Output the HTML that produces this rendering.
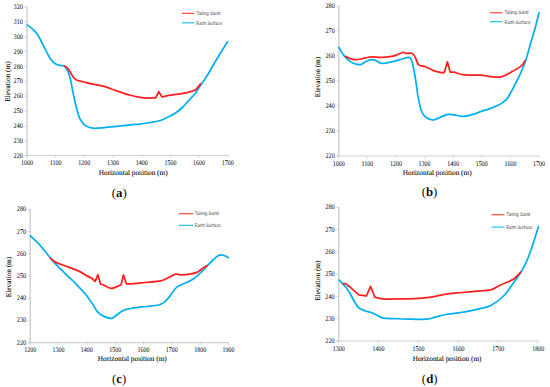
<!DOCTYPE html>
<html><head><meta charset="utf-8"><style>
html,body{margin:0;padding:0;background:#fff;width:550px;height:387px;overflow:hidden}
svg{display:block;text-rendering:geometricPrecision}
.t{font-family:"Liberation Serif",serif;font-size:7.1px;fill:#161616;stroke:#161616;stroke-width:0.05px}
.ti{font-family:"Liberation Serif",serif;font-size:7.3px;fill:#000;stroke:#000;stroke-width:0.08px}
.lb{font-family:"Liberation Serif",serif;font-size:12.8px;fill:#111}
.lg{font-family:"Liberation Sans",sans-serif;font-size:5px;fill:#4a4a4a}
</style></head><body>
<svg width="550" height="387" viewBox="0 0 550 387">
<rect width="550" height="387" fill="#fff"/>
<g><line x1="27" y1="6.6" x2="27" y2="157" stroke="#cfcfcf" stroke-width="1.4"/>
<line x1="24.5" y1="155.5" x2="228.3" y2="155.5" stroke="#cfcfcf" stroke-width="1.1"/>
<line x1="24.5" y1="155.5" x2="27" y2="155.5" stroke="#cfcfcf" stroke-width="0.9"/>
<text x="23" y="157.6" class="t" text-anchor="end" textLength="9.4" lengthAdjust="spacingAndGlyphs">220</text>
<line x1="24.5" y1="140.66" x2="27" y2="140.66" stroke="#cfcfcf" stroke-width="0.9"/>
<text x="23" y="142.76" class="t" text-anchor="end" textLength="9.4" lengthAdjust="spacingAndGlyphs">230</text>
<line x1="24.5" y1="125.82" x2="27" y2="125.82" stroke="#cfcfcf" stroke-width="0.9"/>
<text x="23" y="127.92" class="t" text-anchor="end" textLength="9.4" lengthAdjust="spacingAndGlyphs">240</text>
<line x1="24.5" y1="110.98" x2="27" y2="110.98" stroke="#cfcfcf" stroke-width="0.9"/>
<text x="23" y="113.08" class="t" text-anchor="end" textLength="9.4" lengthAdjust="spacingAndGlyphs">250</text>
<line x1="24.5" y1="96.14" x2="27" y2="96.14" stroke="#cfcfcf" stroke-width="0.9"/>
<text x="23" y="98.24" class="t" text-anchor="end" textLength="9.4" lengthAdjust="spacingAndGlyphs">260</text>
<line x1="24.5" y1="81.3" x2="27" y2="81.3" stroke="#cfcfcf" stroke-width="0.9"/>
<text x="23" y="83.4" class="t" text-anchor="end" textLength="9.4" lengthAdjust="spacingAndGlyphs">270</text>
<line x1="24.5" y1="66.46" x2="27" y2="66.46" stroke="#cfcfcf" stroke-width="0.9"/>
<text x="23" y="68.56" class="t" text-anchor="end" textLength="9.4" lengthAdjust="spacingAndGlyphs">280</text>
<line x1="24.5" y1="51.62" x2="27" y2="51.62" stroke="#cfcfcf" stroke-width="0.9"/>
<text x="23" y="53.72" class="t" text-anchor="end" textLength="9.4" lengthAdjust="spacingAndGlyphs">290</text>
<line x1="24.5" y1="36.78" x2="27" y2="36.78" stroke="#cfcfcf" stroke-width="0.9"/>
<text x="23" y="38.88" class="t" text-anchor="end" textLength="9.4" lengthAdjust="spacingAndGlyphs">300</text>
<line x1="24.5" y1="21.94" x2="27" y2="21.94" stroke="#cfcfcf" stroke-width="0.9"/>
<text x="23" y="24.04" class="t" text-anchor="end" textLength="9.4" lengthAdjust="spacingAndGlyphs">310</text>
<line x1="24.5" y1="7.1" x2="27" y2="7.1" stroke="#cfcfcf" stroke-width="0.9"/>
<text x="23" y="9.2" class="t" text-anchor="end" textLength="9.4" lengthAdjust="spacingAndGlyphs">320</text>
<line x1="27" y1="155.5" x2="27" y2="157.8" stroke="#cfcfcf" stroke-width="0.9"/>
<text x="27" y="165.4" class="t" text-anchor="middle" textLength="12.0" lengthAdjust="spacingAndGlyphs">1000</text>
<line x1="55.69" y1="155.5" x2="55.69" y2="157.8" stroke="#cfcfcf" stroke-width="0.9"/>
<text x="55.69" y="165.4" class="t" text-anchor="middle" textLength="12.0" lengthAdjust="spacingAndGlyphs">1100</text>
<line x1="84.37" y1="155.5" x2="84.37" y2="157.8" stroke="#cfcfcf" stroke-width="0.9"/>
<text x="84.37" y="165.4" class="t" text-anchor="middle" textLength="12.0" lengthAdjust="spacingAndGlyphs">1200</text>
<line x1="113.06" y1="155.5" x2="113.06" y2="157.8" stroke="#cfcfcf" stroke-width="0.9"/>
<text x="113.06" y="165.4" class="t" text-anchor="middle" textLength="12.0" lengthAdjust="spacingAndGlyphs">1300</text>
<line x1="141.74" y1="155.5" x2="141.74" y2="157.8" stroke="#cfcfcf" stroke-width="0.9"/>
<text x="141.74" y="165.4" class="t" text-anchor="middle" textLength="12.0" lengthAdjust="spacingAndGlyphs">1400</text>
<line x1="170.43" y1="155.5" x2="170.43" y2="157.8" stroke="#cfcfcf" stroke-width="0.9"/>
<text x="170.43" y="165.4" class="t" text-anchor="middle" textLength="12.0" lengthAdjust="spacingAndGlyphs">1500</text>
<line x1="199.11" y1="155.5" x2="199.11" y2="157.8" stroke="#cfcfcf" stroke-width="0.9"/>
<text x="199.11" y="165.4" class="t" text-anchor="middle" textLength="12.0" lengthAdjust="spacingAndGlyphs">1600</text>
<line x1="227.8" y1="155.5" x2="227.8" y2="157.8" stroke="#cfcfcf" stroke-width="0.9"/>
<text x="227.8" y="165.4" class="t" text-anchor="middle" textLength="12.0" lengthAdjust="spacingAndGlyphs">1700</text>
<text transform="translate(9.5,81.6) rotate(-90)" class="ti" text-anchor="middle">Elevation (m)</text>
<text x="133.2" y="175.2" class="ti" text-anchor="middle">Horizontal position (m)</text>
<text x="119.3" y="196.6" class="lb" text-anchor="middle">(<tspan font-weight="bold">a</tspan>)</text>
<line x1="182" y1="13.4" x2="194.4" y2="13.4" stroke="#ff5a4a" stroke-width="1.3"/>
<line x1="182" y1="22.8" x2="194.4" y2="22.8" stroke="#33c4f5" stroke-width="1.3"/>
<text x="196.2" y="15" class="lg" textLength="24" lengthAdjust="spacingAndGlyphs">Tailing Sand</text>
<text x="196.2" y="24.8" class="lg" textLength="25.8" lengthAdjust="spacingAndGlyphs">Earth Surface</text>
<path d="M27,24.9 C27.62,25.32 29.48,26.43 30.7,27.4 C31.92,28.37 33.22,29.55 34.3,30.7 C35.38,31.85 36.23,32.92 37.2,34.3 C38.17,35.68 39.03,37.05 40.1,39 C41.17,40.95 42.45,43.73 43.6,46 C44.75,48.27 45.93,50.55 47,52.6 C48.07,54.65 48.88,56.65 50,58.3 C51.12,59.95 52.47,61.42 53.7,62.5 C54.93,63.58 56.17,64.28 57.4,64.8 C58.63,65.32 60,65.38 61.1,65.6 C62.2,65.82 63.15,65.62 64,66.1 C64.85,66.58 65.43,67.35 66.2,68.5 C66.97,69.65 67.83,70.92 68.6,73 C69.37,75.08 70.1,77.88 70.8,81 C71.5,84.12 72.15,88.45 72.8,91.7 C73.45,94.95 74.07,97.72 74.7,100.5 C75.33,103.28 75.97,105.98 76.6,108.4 C77.23,110.82 77.78,112.98 78.5,115 C79.22,117.02 79.68,118.67 80.9,120.5 C82.12,122.33 83.62,124.7 85.8,126 C87.98,127.3 90.97,128.03 94,128.3 C97.03,128.57 100.25,127.93 104,127.6 C107.75,127.27 111.83,126.8 116.5,126.3 C121.17,125.8 128.08,124.97 132,124.6 C135.92,124.23 136.97,124.45 140,124.1 C143.03,123.75 146.8,123.1 150.2,122.5 C153.6,121.9 157.35,121.45 160.4,120.5 C163.45,119.55 165.97,118.05 168.5,116.8 C171.03,115.55 173.22,114.63 175.6,113 C177.98,111.37 180.58,109.12 182.8,107 C185.02,104.88 186.87,102.5 188.9,100.3 C190.93,98.1 193.18,96.1 195,93.8 C196.82,91.5 197.82,89.47 199.8,86.5 C201.78,83.53 204.17,80.42 206.9,76 C209.63,71.58 212.77,65.7 216.2,60 C219.63,54.3 225.62,44.83 227.5,41.8" fill="none" stroke="#00b0f0" stroke-width="1.75" stroke-linejoin="round" stroke-linecap="round"/>
<path d="M64.7,66 C65.17,66.37 66.53,67.12 67.5,68.2 C68.47,69.28 69.45,70.9 70.5,72.5 C71.55,74.1 72.72,76.52 73.8,77.8 C74.88,79.08 75.97,79.67 77,80.2 C78.03,80.73 78.83,80.7 80,81 C81.17,81.3 82.33,81.57 84,82 C85.67,82.43 86.82,82.9 90,83.6 C93.18,84.3 98.73,85.02 103.1,86.2 C107.47,87.38 111.83,89.23 116.2,90.7 C120.57,92.17 125.33,93.9 129.3,95 C133.27,96.1 136.87,96.78 140,97.3 C143.13,97.82 145.47,98 148.1,98.1 C150.73,98.2 154.52,97.93 155.8,97.9 C156.3,96.85 158.3,92.65 158.8,91.6 C159.32,92.48 161.38,96.02 161.9,96.9 C163.32,96.6 167.28,95.62 170.4,95.1 C173.52,94.58 177.7,94.25 180.6,93.8 C183.5,93.35 185.45,92.98 187.8,92.4 C190.15,91.82 193.03,91.13 194.7,90.3 C196.37,89.47 196.87,88.45 197.8,87.4 C198.73,86.35 199.88,84.57 200.3,84" fill="none" stroke="#ff1f1f" stroke-width="1.75" stroke-linejoin="round" stroke-linecap="round"/></g>
<g><line x1="338.8" y1="5.4" x2="338.8" y2="157.5" stroke="#cfcfcf" stroke-width="1.4"/>
<line x1="336.3" y1="156" x2="539.5" y2="156" stroke="#cfcfcf" stroke-width="1.1"/>
<line x1="336.3" y1="156" x2="338.8" y2="156" stroke="#cfcfcf" stroke-width="0.9"/>
<text x="334.8" y="158.1" class="t" text-anchor="end" textLength="9.4" lengthAdjust="spacingAndGlyphs">220</text>
<line x1="336.3" y1="130.98" x2="338.8" y2="130.98" stroke="#cfcfcf" stroke-width="0.9"/>
<text x="334.8" y="133.08" class="t" text-anchor="end" textLength="9.4" lengthAdjust="spacingAndGlyphs">230</text>
<line x1="336.3" y1="105.97" x2="338.8" y2="105.97" stroke="#cfcfcf" stroke-width="0.9"/>
<text x="334.8" y="108.07" class="t" text-anchor="end" textLength="9.4" lengthAdjust="spacingAndGlyphs">240</text>
<line x1="336.3" y1="80.95" x2="338.8" y2="80.95" stroke="#cfcfcf" stroke-width="0.9"/>
<text x="334.8" y="83.05" class="t" text-anchor="end" textLength="9.4" lengthAdjust="spacingAndGlyphs">250</text>
<line x1="336.3" y1="55.93" x2="338.8" y2="55.93" stroke="#cfcfcf" stroke-width="0.9"/>
<text x="334.8" y="58.03" class="t" text-anchor="end" textLength="9.4" lengthAdjust="spacingAndGlyphs">260</text>
<line x1="336.3" y1="30.92" x2="338.8" y2="30.92" stroke="#cfcfcf" stroke-width="0.9"/>
<text x="334.8" y="33.02" class="t" text-anchor="end" textLength="9.4" lengthAdjust="spacingAndGlyphs">270</text>
<line x1="336.3" y1="5.9" x2="338.8" y2="5.9" stroke="#cfcfcf" stroke-width="0.9"/>
<text x="334.8" y="8" class="t" text-anchor="end" textLength="9.4" lengthAdjust="spacingAndGlyphs">280</text>
<line x1="338.8" y1="156" x2="338.8" y2="158.3" stroke="#cfcfcf" stroke-width="0.9"/>
<text x="338.8" y="165.7" class="t" text-anchor="middle" textLength="12.0" lengthAdjust="spacingAndGlyphs">1000</text>
<line x1="367.4" y1="156" x2="367.4" y2="158.3" stroke="#cfcfcf" stroke-width="0.9"/>
<text x="367.4" y="165.7" class="t" text-anchor="middle" textLength="12.0" lengthAdjust="spacingAndGlyphs">1100</text>
<line x1="396" y1="156" x2="396" y2="158.3" stroke="#cfcfcf" stroke-width="0.9"/>
<text x="396" y="165.7" class="t" text-anchor="middle" textLength="12.0" lengthAdjust="spacingAndGlyphs">1200</text>
<line x1="424.6" y1="156" x2="424.6" y2="158.3" stroke="#cfcfcf" stroke-width="0.9"/>
<text x="424.6" y="165.7" class="t" text-anchor="middle" textLength="12.0" lengthAdjust="spacingAndGlyphs">1300</text>
<line x1="453.2" y1="156" x2="453.2" y2="158.3" stroke="#cfcfcf" stroke-width="0.9"/>
<text x="453.2" y="165.7" class="t" text-anchor="middle" textLength="12.0" lengthAdjust="spacingAndGlyphs">1400</text>
<line x1="481.8" y1="156" x2="481.8" y2="158.3" stroke="#cfcfcf" stroke-width="0.9"/>
<text x="481.8" y="165.7" class="t" text-anchor="middle" textLength="12.0" lengthAdjust="spacingAndGlyphs">1500</text>
<line x1="510.4" y1="156" x2="510.4" y2="158.3" stroke="#cfcfcf" stroke-width="0.9"/>
<text x="510.4" y="165.7" class="t" text-anchor="middle" textLength="12.0" lengthAdjust="spacingAndGlyphs">1600</text>
<line x1="539" y1="156" x2="539" y2="158.3" stroke="#cfcfcf" stroke-width="0.9"/>
<text x="539" y="165.7" class="t" text-anchor="middle" textLength="12.0" lengthAdjust="spacingAndGlyphs">1700</text>
<text transform="translate(320,77) rotate(-90)" class="ti" text-anchor="middle">Elevation (m)</text>
<text x="437.2" y="174.7" class="ti" text-anchor="middle">Horizontal position (m)</text>
<text x="429.5" y="195.7" class="lb" text-anchor="middle">(<tspan font-weight="bold">b</tspan>)</text>
<line x1="490" y1="12.7" x2="502.5" y2="12.7" stroke="#ff5a4a" stroke-width="1.3"/>
<line x1="490" y1="21.7" x2="502.5" y2="21.7" stroke="#33c4f5" stroke-width="1.3"/>
<text x="504.5" y="14.3" class="lg" textLength="24" lengthAdjust="spacingAndGlyphs">Tailing Sand</text>
<text x="504.5" y="23.7" class="lg" textLength="25.8" lengthAdjust="spacingAndGlyphs">Earth Surface</text>
<path d="M339,47.5 C339.57,48.52 341.05,51.65 342.4,53.6 C343.75,55.55 345.28,57.6 347.1,59.2 C348.92,60.8 351.12,62.3 353.3,63.2 C355.48,64.1 358.17,64.83 360.2,64.6 C362.23,64.37 363.72,62.63 365.5,61.8 C367.28,60.97 369.23,59.85 370.9,59.6 C372.57,59.35 373.68,59.67 375.5,60.3 C377.32,60.93 378.93,63.18 381.8,63.4 C384.67,63.62 389.78,62.2 392.7,61.6 C395.62,61 396.92,60.47 399.3,59.8 C401.68,59.13 405.18,57.92 407,57.6 C408.82,57.28 409.28,56.95 410.2,57.9 C411.12,58.85 411.73,60.45 412.5,63.3 C413.27,66.15 414.03,70.6 414.8,75 C415.57,79.4 416.6,86.28 417.1,89.7 C417.6,93.12 417.17,92.2 417.8,95.5 C418.43,98.8 419.73,106.02 420.9,109.5 C422.07,112.98 422.85,114.65 424.8,116.4 C426.75,118.15 430.02,119.87 432.6,120 C435.18,120.13 437.72,118.13 440.3,117.2 C442.88,116.27 445.77,114.78 448.1,114.4 C450.43,114.02 451.72,114.57 454.3,114.9 C456.88,115.23 460.77,116.4 463.6,116.4 C466.43,116.4 468.23,115.77 471.3,114.9 C474.37,114.03 478.88,112.25 482,111.2 C485.12,110.15 487.22,109.63 490,108.6 C492.78,107.57 496.37,106.18 498.7,105 C501.03,103.82 502.57,102.6 504,101.5 C505.43,100.4 506.22,99.82 507.3,98.4 C508.38,96.98 509.42,94.93 510.5,93 C511.58,91.07 512.13,90.07 513.8,86.8 C515.47,83.53 518.53,77.73 520.5,73.4 C522.47,69.07 523.93,65.73 525.6,60.8 C527.27,55.87 528.93,49.18 530.5,43.8 C532.07,38.42 533.58,33.67 535,28.5 C536.42,23.33 538.33,15.42 539,12.8" fill="none" stroke="#00b0f0" stroke-width="1.75" stroke-linejoin="round" stroke-linecap="round"/>
<path d="M345.5,56.4 C346.53,56.85 349.63,58.58 351.7,59.1 C353.77,59.62 355.57,59.72 357.9,59.5 C360.23,59.28 363.35,58.23 365.7,57.8 C368.05,57.37 369.28,56.98 372,56.9 C374.72,56.82 378.5,57.43 382,57.3 C385.5,57.17 389.52,56.9 393,56.1 C396.48,55.3 400.65,52.95 402.9,52.5 C405.15,52.05 405.03,53.27 406.5,53.4 C407.97,53.53 410.32,52.8 411.7,53.3 C413.08,53.8 413.63,54.47 414.8,56.4 C415.97,58.33 416.88,63.18 418.7,64.9 C420.52,66.62 423.25,65.75 425.7,66.7 C428.15,67.65 430.82,69.62 433.4,70.6 C435.98,71.58 439.38,72.27 441.2,72.6 C443.02,72.93 443.78,72.6 444.3,72.6 C444.82,70.8 446.88,63.6 447.4,61.8 C447.87,63.53 449.73,70.47 450.2,72.2 C450.77,72.2 451.48,71.78 453.6,72.2 C455.72,72.62 460.17,74.22 462.9,74.7 C465.63,75.18 467.1,75.03 470,75.1 C472.9,75.17 476.92,74.85 480.3,75.1 C483.68,75.35 487.23,76.25 490.3,76.6 C493.37,76.95 496.45,77.3 498.7,77.2 C500.95,77.1 501.57,76.93 503.8,76 C506.03,75.07 509.58,73 512.1,71.6 C514.62,70.2 517.17,68.77 518.9,67.6 C520.63,66.43 521.52,65.7 522.5,64.6 C523.48,63.5 524.42,61.6 524.8,61" fill="none" stroke="#ff1f1f" stroke-width="1.75" stroke-linejoin="round" stroke-linecap="round"/></g>
<g><line x1="30.2" y1="208.8" x2="30.2" y2="344.1" stroke="#cfcfcf" stroke-width="1.4"/>
<line x1="27.7" y1="342.6" x2="229" y2="342.6" stroke="#cfcfcf" stroke-width="1.1"/>
<line x1="27.7" y1="342.6" x2="30.2" y2="342.6" stroke="#cfcfcf" stroke-width="0.9"/>
<text x="26.2" y="344.7" class="t" text-anchor="end" textLength="9.4" lengthAdjust="spacingAndGlyphs">220</text>
<line x1="27.7" y1="320.38" x2="30.2" y2="320.38" stroke="#cfcfcf" stroke-width="0.9"/>
<text x="26.2" y="322.48" class="t" text-anchor="end" textLength="9.4" lengthAdjust="spacingAndGlyphs">230</text>
<line x1="27.7" y1="298.17" x2="30.2" y2="298.17" stroke="#cfcfcf" stroke-width="0.9"/>
<text x="26.2" y="300.27" class="t" text-anchor="end" textLength="9.4" lengthAdjust="spacingAndGlyphs">240</text>
<line x1="27.7" y1="275.95" x2="30.2" y2="275.95" stroke="#cfcfcf" stroke-width="0.9"/>
<text x="26.2" y="278.05" class="t" text-anchor="end" textLength="9.4" lengthAdjust="spacingAndGlyphs">250</text>
<line x1="27.7" y1="253.73" x2="30.2" y2="253.73" stroke="#cfcfcf" stroke-width="0.9"/>
<text x="26.2" y="255.83" class="t" text-anchor="end" textLength="9.4" lengthAdjust="spacingAndGlyphs">260</text>
<line x1="27.7" y1="231.52" x2="30.2" y2="231.52" stroke="#cfcfcf" stroke-width="0.9"/>
<text x="26.2" y="233.62" class="t" text-anchor="end" textLength="9.4" lengthAdjust="spacingAndGlyphs">270</text>
<line x1="27.7" y1="209.3" x2="30.2" y2="209.3" stroke="#cfcfcf" stroke-width="0.9"/>
<text x="26.2" y="211.4" class="t" text-anchor="end" textLength="9.4" lengthAdjust="spacingAndGlyphs">280</text>
<line x1="30.2" y1="342.6" x2="30.2" y2="344.9" stroke="#cfcfcf" stroke-width="0.9"/>
<text x="30.2" y="351.9" class="t" text-anchor="middle" textLength="12.0" lengthAdjust="spacingAndGlyphs">1200</text>
<line x1="58.53" y1="342.6" x2="58.53" y2="344.9" stroke="#cfcfcf" stroke-width="0.9"/>
<text x="58.53" y="351.9" class="t" text-anchor="middle" textLength="12.0" lengthAdjust="spacingAndGlyphs">1300</text>
<line x1="86.86" y1="342.6" x2="86.86" y2="344.9" stroke="#cfcfcf" stroke-width="0.9"/>
<text x="86.86" y="351.9" class="t" text-anchor="middle" textLength="12.0" lengthAdjust="spacingAndGlyphs">1400</text>
<line x1="115.19" y1="342.6" x2="115.19" y2="344.9" stroke="#cfcfcf" stroke-width="0.9"/>
<text x="115.19" y="351.9" class="t" text-anchor="middle" textLength="12.0" lengthAdjust="spacingAndGlyphs">1500</text>
<line x1="143.51" y1="342.6" x2="143.51" y2="344.9" stroke="#cfcfcf" stroke-width="0.9"/>
<text x="143.51" y="351.9" class="t" text-anchor="middle" textLength="12.0" lengthAdjust="spacingAndGlyphs">1600</text>
<line x1="171.84" y1="342.6" x2="171.84" y2="344.9" stroke="#cfcfcf" stroke-width="0.9"/>
<text x="171.84" y="351.9" class="t" text-anchor="middle" textLength="12.0" lengthAdjust="spacingAndGlyphs">1700</text>
<line x1="200.17" y1="342.6" x2="200.17" y2="344.9" stroke="#cfcfcf" stroke-width="0.9"/>
<text x="200.17" y="351.9" class="t" text-anchor="middle" textLength="12.0" lengthAdjust="spacingAndGlyphs">1800</text>
<line x1="228.5" y1="342.6" x2="228.5" y2="344.9" stroke="#cfcfcf" stroke-width="0.9"/>
<text x="228.5" y="351.9" class="t" text-anchor="middle" textLength="12.0" lengthAdjust="spacingAndGlyphs">1900</text>
<text transform="translate(10.7,277) rotate(-90)" class="ti" text-anchor="middle">Elevation (m)</text>
<text x="132.3" y="361" class="ti" text-anchor="middle">Horizontal position (m)</text>
<text x="119.1" y="383" class="lb" text-anchor="middle">(<tspan font-weight="bold">c</tspan>)</text>
<line x1="178.7" y1="213.7" x2="193.3" y2="213.7" stroke="#ff5a4a" stroke-width="1.3"/>
<line x1="178.7" y1="225.4" x2="193.3" y2="225.4" stroke="#33c4f5" stroke-width="1.3"/>
<text x="194.8" y="215.3" class="lg" textLength="24" lengthAdjust="spacingAndGlyphs">Tailing Sand</text>
<text x="194.8" y="227.4" class="lg" textLength="25.8" lengthAdjust="spacingAndGlyphs">Earth Surface</text>
<path d="M30.4,235.9 C32.03,237.5 36.77,241.7 40.2,245.5 C43.63,249.3 48.17,255.33 51,258.7 C53.83,262.07 54.1,262.52 57.2,265.7 C60.3,268.88 66.77,275.07 69.6,277.8 C72.43,280.53 72.47,280.37 74.2,282.1 C75.93,283.83 78.1,286.17 80,288.2 C81.9,290.23 83.48,291.62 85.6,294.3 C87.72,296.98 90.7,301.37 92.7,304.3 C94.7,307.23 95.95,310.02 97.6,311.9 C99.25,313.78 100.35,314.52 102.6,315.6 C104.85,316.68 108.92,318.37 111.1,318.4 C113.28,318.43 113.65,317.13 115.7,315.8 C117.75,314.47 120.3,311.73 123.4,310.4 C126.5,309.07 130.42,308.45 134.3,307.8 C138.18,307.15 142.65,306.97 146.7,306.5 C150.75,306.03 155.75,305.65 158.6,305 C161.45,304.35 162.08,303.87 163.8,302.6 C165.52,301.33 166.97,299.75 168.9,297.4 C170.83,295.05 173.62,290.48 175.4,288.5 C177.18,286.52 178.33,286.25 179.6,285.5 C180.87,284.75 180.7,285.1 183,284 C185.3,282.9 190.17,281.07 193.4,278.9 C196.63,276.73 200.07,273.2 202.4,271 C204.73,268.8 205.53,267.62 207.4,265.7 C209.27,263.78 211.88,261.12 213.6,259.5 C215.32,257.88 216.32,256.75 217.7,256 C219.08,255.25 220.52,254.95 221.9,255 C223.28,255.05 224.93,255.82 226,256.3 C227.07,256.78 227.92,257.63 228.3,257.9" fill="none" stroke="#00b0f0" stroke-width="1.75" stroke-linejoin="round" stroke-linecap="round"/>
<path d="M50.2,257.9 C51.23,258.68 53.68,261.18 56.4,262.6 C59.12,264.02 62.75,264.98 66.5,266.4 C70.25,267.82 75.62,269.58 78.9,271.1 C82.18,272.62 84.08,274.3 86.2,275.5 C88.32,276.7 90.1,277.32 91.6,278.3 C93.1,279.28 94.6,280.88 95.2,281.4 C95.63,280.28 97.37,275.82 97.8,274.7 C98.25,276.25 100.05,282.45 100.5,284 C101.22,284.27 103.05,284.87 104.8,285.6 C106.55,286.33 109.18,288.15 111,288.4 C112.82,288.65 114.02,287.7 115.7,287.1 C117.38,286.5 120.2,285.18 121.1,284.8 C121.48,283.17 123.02,276.63 123.4,275 C123.92,276.5 125.98,282.5 126.5,284 C127.8,283.93 131.2,283.85 134.3,283.6 C137.4,283.35 140.68,282.95 145.1,282.5 C149.52,282.05 156.97,281.68 160.8,280.9 C164.63,280.12 165.67,278.92 168.1,277.8 C170.53,276.68 173.32,274.7 175.4,274.2 C177.48,273.7 178.2,274.82 180.6,274.8 C183,274.78 187.07,274.5 189.8,274.1 C192.53,273.7 194.9,273.33 197,272.4 C199.1,271.47 200.67,269.63 202.4,268.5 C204.13,267.37 206.57,266.08 207.4,265.6" fill="none" stroke="#ff1f1f" stroke-width="1.75" stroke-linejoin="round" stroke-linecap="round"/></g>
<g><line x1="338.7" y1="206.8" x2="338.7" y2="342.5" stroke="#cfcfcf" stroke-width="1.4"/>
<line x1="336.2" y1="341" x2="538.7" y2="341" stroke="#cfcfcf" stroke-width="1.1"/>
<line x1="336.2" y1="341" x2="338.7" y2="341" stroke="#cfcfcf" stroke-width="0.9"/>
<text x="334.7" y="343.1" class="t" text-anchor="end" textLength="9.4" lengthAdjust="spacingAndGlyphs">220</text>
<line x1="336.2" y1="318.72" x2="338.7" y2="318.72" stroke="#cfcfcf" stroke-width="0.9"/>
<text x="334.7" y="320.82" class="t" text-anchor="end" textLength="9.4" lengthAdjust="spacingAndGlyphs">230</text>
<line x1="336.2" y1="296.43" x2="338.7" y2="296.43" stroke="#cfcfcf" stroke-width="0.9"/>
<text x="334.7" y="298.53" class="t" text-anchor="end" textLength="9.4" lengthAdjust="spacingAndGlyphs">240</text>
<line x1="336.2" y1="274.15" x2="338.7" y2="274.15" stroke="#cfcfcf" stroke-width="0.9"/>
<text x="334.7" y="276.25" class="t" text-anchor="end" textLength="9.4" lengthAdjust="spacingAndGlyphs">250</text>
<line x1="336.2" y1="251.87" x2="338.7" y2="251.87" stroke="#cfcfcf" stroke-width="0.9"/>
<text x="334.7" y="253.97" class="t" text-anchor="end" textLength="9.4" lengthAdjust="spacingAndGlyphs">260</text>
<line x1="336.2" y1="229.58" x2="338.7" y2="229.58" stroke="#cfcfcf" stroke-width="0.9"/>
<text x="334.7" y="231.68" class="t" text-anchor="end" textLength="9.4" lengthAdjust="spacingAndGlyphs">270</text>
<line x1="336.2" y1="207.3" x2="338.7" y2="207.3" stroke="#cfcfcf" stroke-width="0.9"/>
<text x="334.7" y="209.4" class="t" text-anchor="end" textLength="9.4" lengthAdjust="spacingAndGlyphs">280</text>
<line x1="338.7" y1="341" x2="338.7" y2="343.3" stroke="#cfcfcf" stroke-width="0.9"/>
<text x="338.7" y="350.6" class="t" text-anchor="middle" textLength="12.0" lengthAdjust="spacingAndGlyphs">1300</text>
<line x1="378.6" y1="341" x2="378.6" y2="343.3" stroke="#cfcfcf" stroke-width="0.9"/>
<text x="378.6" y="350.6" class="t" text-anchor="middle" textLength="12.0" lengthAdjust="spacingAndGlyphs">1400</text>
<line x1="418.5" y1="341" x2="418.5" y2="343.3" stroke="#cfcfcf" stroke-width="0.9"/>
<text x="418.5" y="350.6" class="t" text-anchor="middle" textLength="12.0" lengthAdjust="spacingAndGlyphs">1500</text>
<line x1="458.4" y1="341" x2="458.4" y2="343.3" stroke="#cfcfcf" stroke-width="0.9"/>
<text x="458.4" y="350.6" class="t" text-anchor="middle" textLength="12.0" lengthAdjust="spacingAndGlyphs">1600</text>
<line x1="498.3" y1="341" x2="498.3" y2="343.3" stroke="#cfcfcf" stroke-width="0.9"/>
<text x="498.3" y="350.6" class="t" text-anchor="middle" textLength="12.0" lengthAdjust="spacingAndGlyphs">1700</text>
<line x1="538.2" y1="341" x2="538.2" y2="343.3" stroke="#cfcfcf" stroke-width="0.9"/>
<text x="538.2" y="350.6" class="t" text-anchor="middle" textLength="12.0" lengthAdjust="spacingAndGlyphs">1800</text>
<text transform="translate(320,280.7) rotate(-90)" class="ti" text-anchor="middle">Elevation (m)</text>
<text x="447.1" y="361.3" class="ti" text-anchor="middle">Horizontal position (m)</text>
<text x="429.7" y="383" class="lb" text-anchor="middle">(<tspan font-weight="bold">d</tspan>)</text>
<line x1="491.6" y1="214.7" x2="504.5" y2="214.7" stroke="#ff5a4a" stroke-width="1.3"/>
<line x1="491.6" y1="227.1" x2="504.5" y2="227.1" stroke="#33c4f5" stroke-width="1.3"/>
<text x="506.3" y="216.3" class="lg" textLength="24" lengthAdjust="spacingAndGlyphs">Tailing Sand</text>
<text x="506.3" y="229.1" class="lg" textLength="25.8" lengthAdjust="spacingAndGlyphs">Earth Surface</text>
<path d="M339,280 C339.62,280.63 341.45,282.47 342.7,283.8 C343.95,285.13 345.25,286.33 346.5,288 C347.75,289.67 348.82,291.42 350.2,293.8 C351.58,296.18 353.33,299.93 354.8,302.3 C356.27,304.67 357.18,306.55 359,308 C360.82,309.45 363.55,310.22 365.7,311 C367.85,311.78 370.1,312.03 371.9,312.7 C373.7,313.37 374.57,314.1 376.5,315 C378.43,315.9 380.4,317.5 383.5,318.1 C386.6,318.7 390.28,318.42 395.1,318.6 C399.92,318.78 407.1,319.1 412.4,319.2 C417.7,319.3 423.12,319.55 426.9,319.2 C430.68,318.85 432,317.88 435.1,317.1 C438.2,316.32 441.02,315.28 445.5,314.5 C449.98,313.72 456.25,313.38 462,312.4 C467.75,311.42 475.22,309.77 480,308.6 C484.78,307.43 486.85,307.42 490.7,305.4 C494.55,303.38 499.32,300.22 503.1,296.5 C506.88,292.78 510.3,287.4 513.4,283.1 C516.5,278.8 519.28,274.83 521.7,270.7 C524.12,266.57 526.07,262.6 527.9,258.3 C529.73,254 530.93,250.18 532.7,244.9 C534.47,239.62 537.53,229.65 538.5,226.6" fill="none" stroke="#00b0f0" stroke-width="1.75" stroke-linejoin="round" stroke-linecap="round"/>
<path d="M343.2,283.6 C343.58,283.6 345.12,283.6 345.5,283.6 C346.28,284.18 348,285.22 350.2,287.1 C352.4,288.98 357.28,293.6 358.7,294.9 C359.98,295.08 365.12,295.82 366.4,296 C367.1,294.4 369.9,288 370.6,286.4 C371.28,288.2 374.02,295.4 374.7,297.2 C376.3,297.52 380.9,298.83 384.3,299.1 C387.7,299.37 390.07,298.88 395.1,298.8 C400.13,298.72 408.85,298.83 414.5,298.6 C420.15,298.37 423.53,298.2 429,297.4 C434.47,296.6 441.8,294.62 447.3,293.8 C452.8,292.98 456.55,292.98 462,292.5 C467.45,292.02 475.22,291.35 480,290.9 C484.78,290.45 487.2,290.83 490.7,289.8 C494.2,288.77 497.22,286.45 501,284.7 C504.78,282.95 510.13,281.37 513.4,279.3 C516.67,277.23 519.4,273.47 520.6,272.3" fill="none" stroke="#ff1f1f" stroke-width="1.75" stroke-linejoin="round" stroke-linecap="round"/></g>
</svg>
</body></html>
